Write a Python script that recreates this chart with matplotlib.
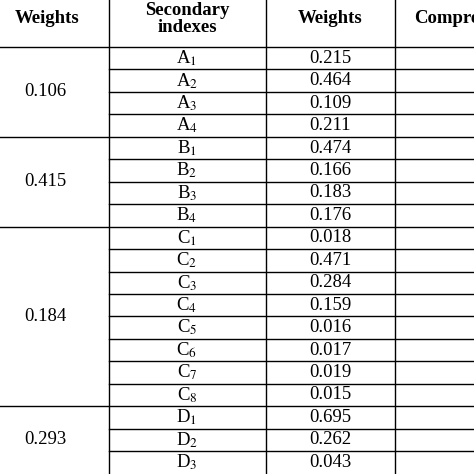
import matplotlib
matplotlib.use("Agg")
import matplotlib.pyplot as plt

plt.rcParams['font.family'] = ['Liberation Serif', 'DejaVu Serif']
plt.rcParams['mathtext.fontset'] = 'stix'

headers = ["Weights", "Secondary\nindexes", "Weights", "Comprehensive"]
groups = ["A", "B", "C", "D"]
group_weights = ["0.106", "0.415", "0.184", "0.293"]
group_sizes = [4, 4, 8, 3]
sub_weights = ["0.215", "0.464", "0.109", "0.211",
               "0.474", "0.166", "0.183", "0.176",
               "0.018", "0.471", "0.284", "0.159", "0.016", "0.017", "0.019", "0.015",
               "0.695", "0.262", "0.043"]

fig = plt.figure(figsize=(4.74, 4.74), dpi=100)
ax = fig.add_axes([0, 0, 1, 1])
ax.set_xlim(0, 474); ax.set_ylim(474, 0); ax.axis('off')

hdr_bot = 47; rh = 22.45
xs = [109, 266, 395]
lw = 1.0
ax.plot([0, 474], [hdr_bot, hdr_bot], color='k', lw=lw)
for x in xs:
    ax.plot([x, x], [0, 474], color='k', lw=lw)
fs = 13.5
ax.text(47, 18, headers[0], ha='center', va='center', fontsize=fs, fontweight='bold')
ax.text(187, 19, headers[1], ha='center', va='center', fontsize=fs, fontweight='bold', linespacing=0.95)
ax.text(330, 18, headers[2], ha='center', va='center', fontsize=fs, fontweight='bold')
ax.text(414, 18, headers[3], ha='left', va='center', fontsize=fs, fontweight='bold', clip_on=True)

r = 0
for g, gw, n in zip(groups, group_weights, group_sizes):
    top = hdr_bot + r*rh
    ax.text(45, top + n*rh/2, gw, ha='center', va='center', fontsize=fs)
    for i in range(n):
        y0 = hdr_bot + (r+i)*rh
        ax.text(187, y0 + rh/2, rf"{g}$_{{{i+1}}}$", ha='center', va='center', fontsize=fs)
        ax.text(330, y0 + rh/2, sub_weights[r+i], ha='center', va='center', fontsize=fs)
        if i > 0:
            ax.plot([109, 474], [y0, y0], color='k', lw=lw)
    r += n
    yb = hdr_bot + r*rh
    if r < sum(group_sizes):
        ax.plot([0, 474], [yb, yb], color='k', lw=lw)

fig.savefig("out.png", dpi=100)
